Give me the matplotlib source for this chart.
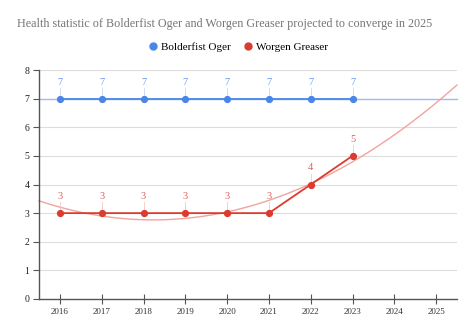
import numpy as np
import matplotlib
matplotlib.use("Agg")
import matplotlib.pyplot as plt
from matplotlib.lines import Line2D

years = [2016, 2017, 2018, 2019, 2020, 2021, 2022, 2023]
bolderfist = [7, 7, 7, 7, 7, 7, 7, 7]
worgen = [3, 3, 3, 3, 3, 3, 4, 5]
xticks = [2016, 2017, 2018, 2019, 2020, 2021, 2022, 2023, 2024, 2025]
yticks = [0, 1, 2, 3, 4, 5, 6, 7, 8]
title = "Health statistic of Bolderfist Oger and Worgen Greaser projected to converge in 2025"

blue = "#4a86e8"
red = "#dc3b30"
plt.rcParams['font.family'] = ['Liberation Serif', 'DejaVu Serif']

fig = plt.figure(figsize=(4.74, 3.34), dpi=100)
ax = fig.add_axes([39/474, 35/334, (457-39)/474, (299-70)/334])

xlo, xhi = 2015.5, 2025.5
ax.set_xlim(xlo, xhi)
ax.set_ylim(0, 8)

# gridlines
for yv in yticks[1:]:
    ax.axhline(yv, color="#dddddd", lw=0.8, zorder=0)

# trendlines
xs = np.linspace(xlo, xhi, 200)
xr = np.array(years, dtype=float)
cb = np.polyfit(xr - 2016, bolderfist, 1)
cr = np.polyfit(xr - 2016, worgen, 2)
ax.plot(xs, np.polyval(cb, xs - 2016), color="#9dbdf5", lw=1.0, zorder=1, clip_on=False)
ax.plot(xs, np.polyval(cr, xs - 2016), color="#f0a49e", lw=1.0, zorder=1, clip_on=False)

# series
ax.plot(years, bolderfist, color=blue, lw=1.3, marker='o', ms=4.2, zorder=3)
ax.plot(years, worgen, color=red, lw=1.3, marker='o', ms=4.2, zorder=3)

# labels
for x, y in zip(years, bolderfist):
    ax.plot([x, x], [y + 0.08, y + 0.38], color="#c8d8f8", lw=0.6, zorder=2)
    ax.text(x, y + 0.42, str(y), color="#6d9eeb", ha='center', va='bottom', fontsize=7.5)
for x, y in zip(years, worgen):
    ax.plot([x, x], [y + 0.08, y + 0.38], color="#f4c7c3", lw=0.6, zorder=2)
    ax.text(x, y + 0.42, str(y), color="#d9605a", ha='center', va='bottom', fontsize=7.5)

ax.set_xticks(xticks)
ax.set_xticklabels([str(t) for t in xticks])
ax.set_yticks(yticks)
ax.tick_params(axis='x', direction='inout', length=7, width=0.8, color="#555555",
               labelsize=6.5, labelcolor="#333333", pad=3)
ax.tick_params(axis='y', direction='out', length=4, width=0.8, color="#555555",
               labelsize=7, labelcolor="#222222", pad=3)
for s in ['top', 'right']:
    ax.spines[s].set_visible(False)
for s in ['left', 'bottom']:
    ax.spines[s].set_color("#555555")
    ax.spines[s].set_linewidth(1.0)

fig.text(17/474, 1 - 24/334, title, color="#757575", fontsize=8.7, ha='left', va='center')

handles = [Line2D([], [], color=blue, marker='o', ls='', ms=5),
           Line2D([], [], color=red, marker='o', ls='', ms=5)]
fig.legend(handles, ["Bolderfist Oger", "Worgen Greaser"], loc='center',
           bbox_to_anchor=(0.5, 1 - 47/334), ncol=2, frameon=False, fontsize=8,
           handletextpad=0.1, columnspacing=1.0, handlelength=1.2)

fig.savefig("out.png", dpi=100)
